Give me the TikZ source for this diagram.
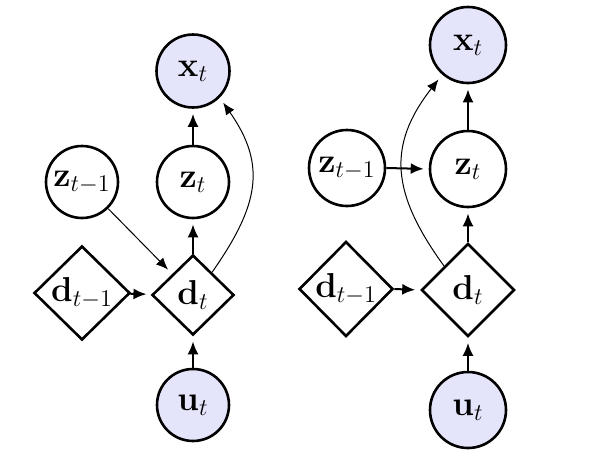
\documentclass[tikz,border=0pt]{standalone}
\usetikzlibrary{shapes.geometric,arrows.meta}
\definecolor{obsfill}{RGB}{228,228,250}
\begin{document}
\begin{tikzpicture}[x=0.5pt,y=-0.5pt,
  var/.style={circle,draw,line width=1.3pt,inner sep=0pt},
  obs/.style={var,fill=obsfill},
  det/.style={diamond,aspect=1,draw,line width=1.3pt,inner sep=0pt},
  fl/.style={font=\LARGE},
  fr/.style={font=\LARGE},
  arr/.style={-{Latex[length=6.5pt,width=5.5pt]},line width=1pt,shorten >=2.5pt},
  tarr/.style={-{Latex[length=6pt,width=5pt]},line width=0.5pt,shorten >=3pt}]
\useasboundingbox (0,0) rectangle (600,456);
% left diagram
\node[obs,fl,minimum size=36.5pt] (xL) at (193,71) {$\mathbf{x}_t$};
\node[var,fl,minimum size=36pt] (zL) at (193,182) {$\mathbf{z}_t$};
\node[var,fl,minimum size=36pt] (zpL) at (82,182) {$\mathbf{z}_{t-1}$};
\node[det,fl,minimum width=41pt,minimum height=40pt] (dL) at (193,295) {$\mathbf{d}_t$};
\node[det,fl,minimum width=48pt,minimum height=47pt] (dpL) at (82,293) {$\mathbf{d}_{t-1}$};
\node[obs,fl,minimum size=36pt] (uL) at (193,405) {$\mathbf{u}_t$};
\draw[arr] (zL) -- (xL);
\draw[arr] (dL) -- (zL);
\draw[arr] (uL) -- (dL);
\draw[arr] (dpL) -- (dL);
\draw[tarr] (zpL) -- (dL);
\draw[tarr] (dL.50) to[out=55,in=-55,looseness=1.2] (xL.-45);
% right diagram
\node[obs,fr,minimum size=38pt] (xR) at (468,45) {$\mathbf{x}_t$};
\node[var,fr,minimum size=38pt] (zR) at (468,169) {$\mathbf{z}_t$};
\node[var,fr,minimum size=38pt] (zpR) at (347,168) {$\mathbf{z}_{t-1}$};
\node[det,fr,minimum width=46.5pt,minimum height=46.5pt] (dR) at (468,290) {$\mathbf{d}_t$};
\node[det,fr,minimum width=47pt,minimum height=47.5pt] (dpR) at (346,289) {$\mathbf{d}_{t-1}$};
\node[obs,fr,minimum size=38pt] (uR) at (468,410) {$\mathbf{u}_t$};
\draw[arr] (zR) -- (xR);
\draw[arr] (dR) -- (zR);
\draw[arr] (uR) -- (dR);
\draw[arr] (zpR.east) -- (zR.west);
\draw[arr] (dpR.east) -- (dR.west);
\draw[tarr] (dR.135) to[out=126,in=-128,looseness=1.2] (xR.-131);
\end{tikzpicture}
\end{document}
